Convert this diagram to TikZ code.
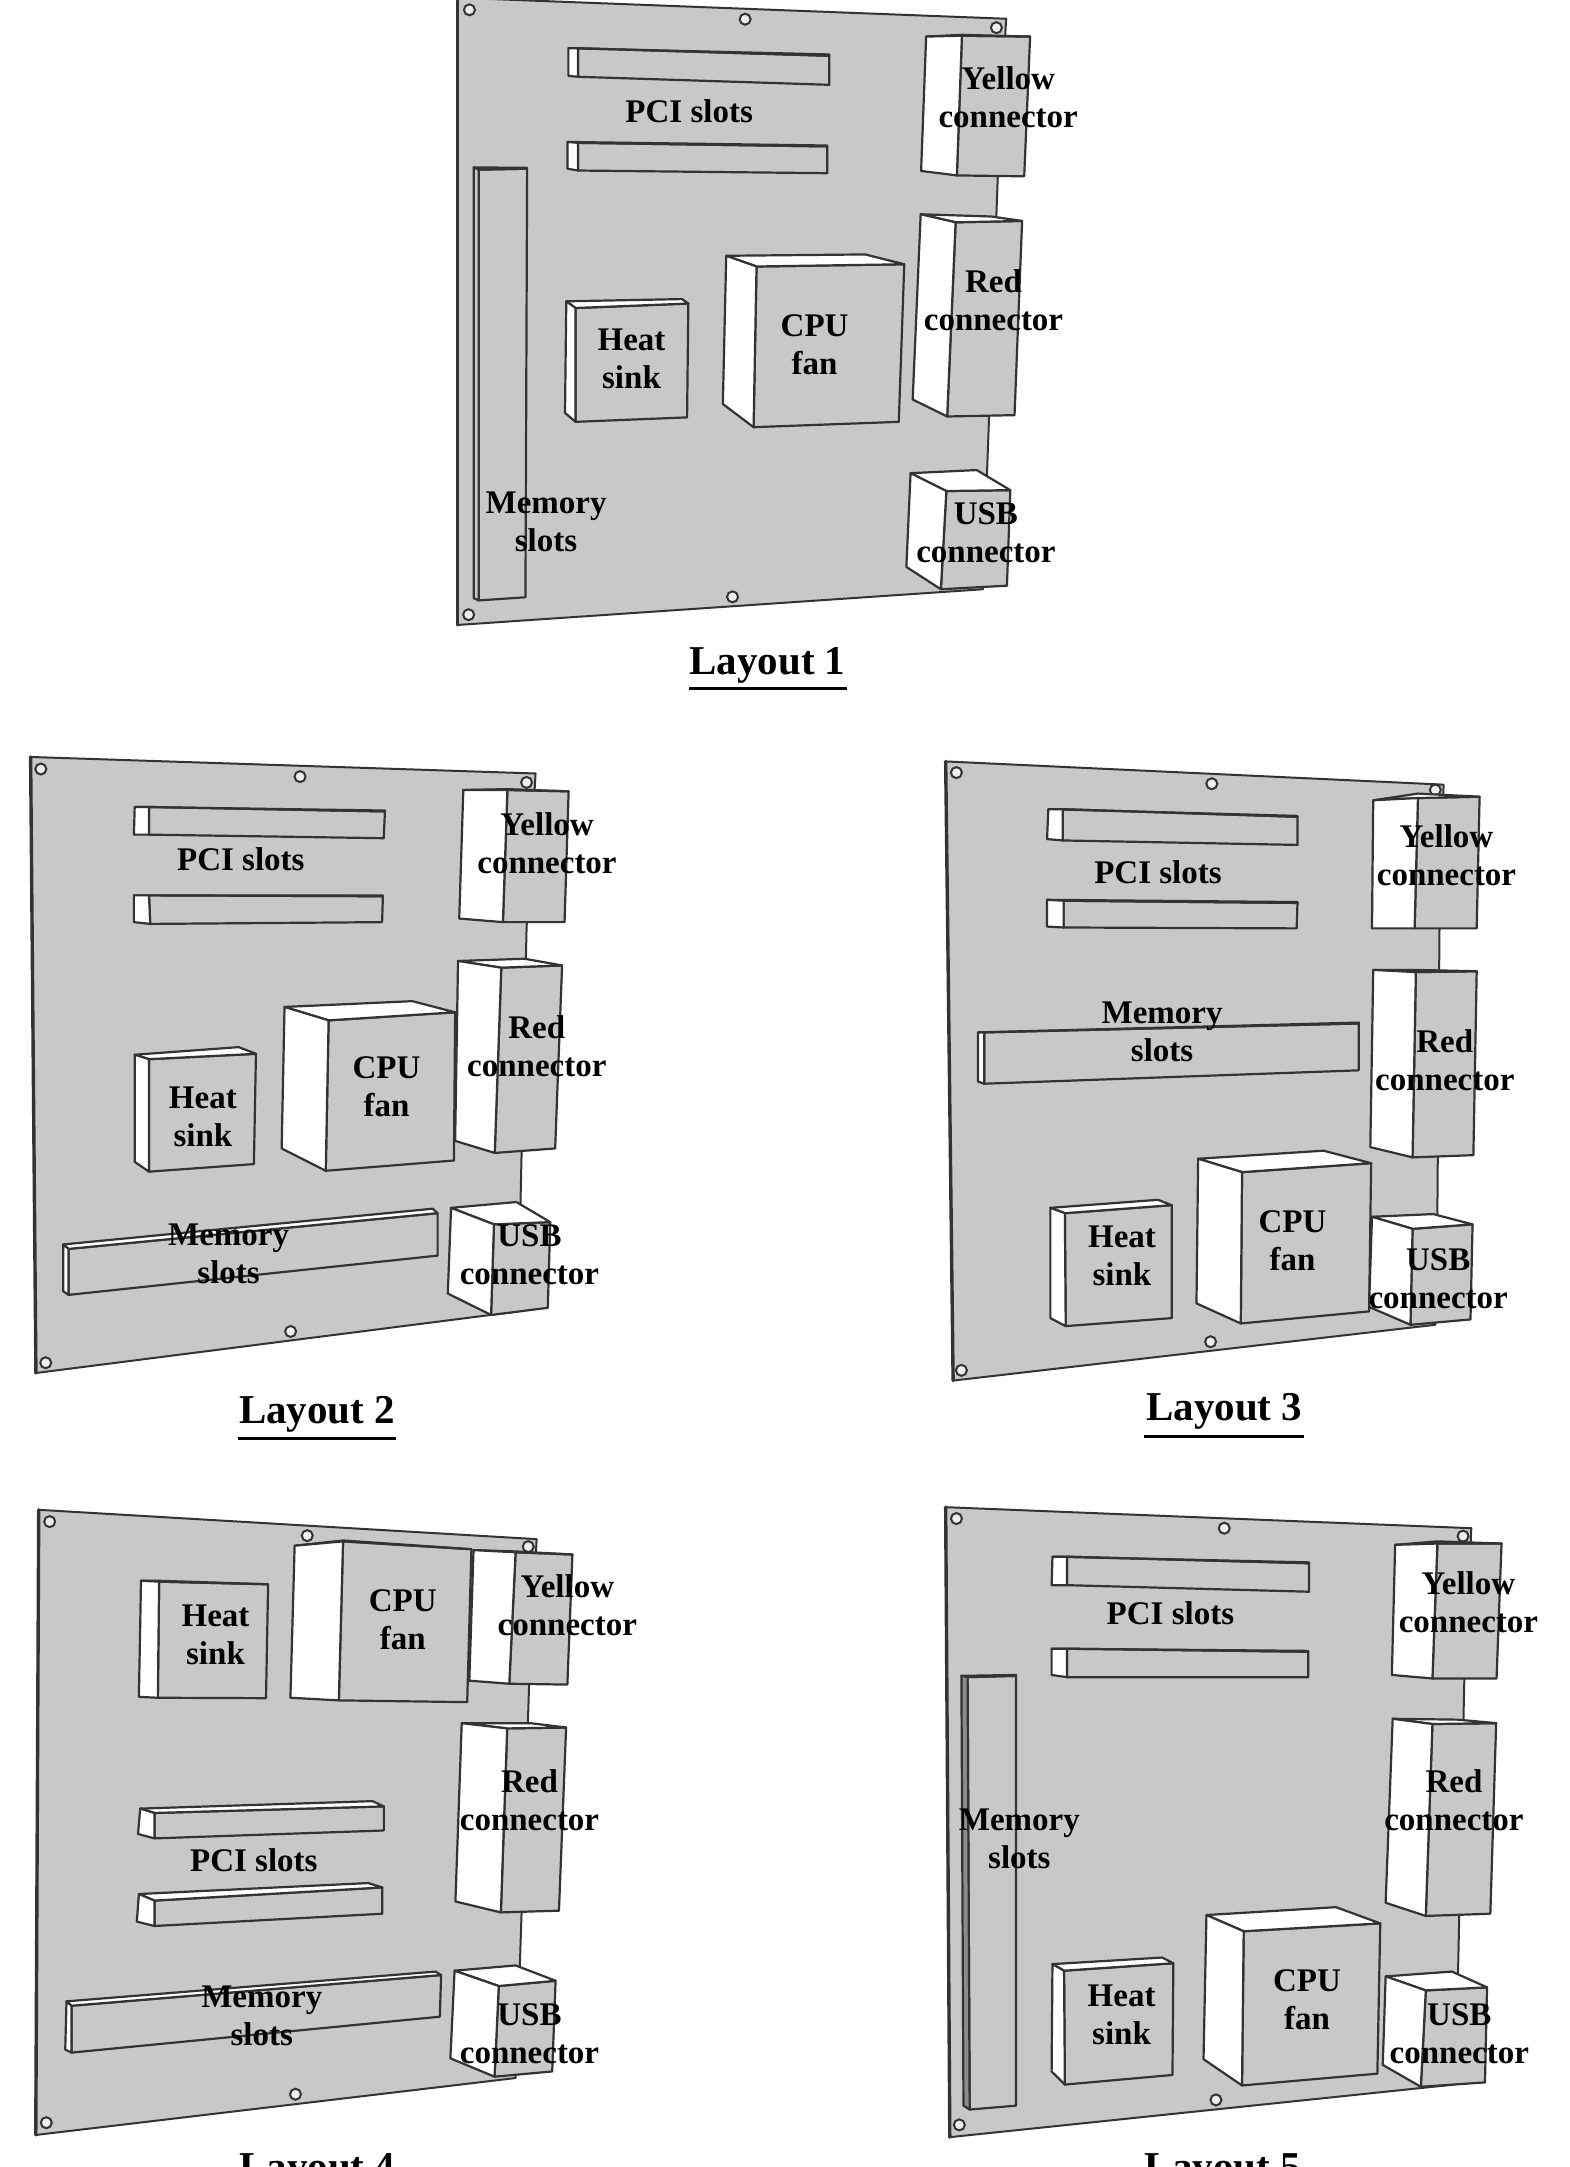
\documentclass[tikz,border=0pt]{standalone}
\usepackage{fontspec}
\setmainfont{Liberation Serif}
\definecolor{boardgray}{HTML}{C8C8C8}
\definecolor{edgegray}{HTML}{333333}

\tikzset{
  board/.style={draw=edgegray,line width=2pt,fill=boardgray,line join=round},
  boardleft/.style={draw=edgegray,line width=3.4pt,line cap=round},
  hole/.style={circle,draw=edgegray,line width=2pt,fill=boardgray!30,minimum size=11pt,inner sep=0pt},
  face/.style={draw=edgegray,line width=2.2pt,fill=boardgray,line join=round},
  part/.style={font=\fontsize{33}{38}\selectfont\bfseries,align=center,inner sep=0pt},
  caption/.style={font=\fontsize{41}{46}\selectfont\bfseries,anchor=base,inner sep=0pt},
  rule/.style={draw=black,line width=2.6pt}
}

% block: front A B C D, then back corners E F G, optional side colour
\newcommand{\block}[8][white]{%
  \draw[face] #2 -- #3 -- #4 -- #5 -- cycle;
  \draw[face,fill=white] #7 -- #2 -- #3 -- #8 -- cycle;
  \draw[face,fill=#1] #2 -- #5 -- #6 -- #7 -- cycle;
}

\begin{document}
\begin{tikzpicture}[x=1pt,y=-1pt]
  \useasboundingbox (0,0) rectangle (1569,2167);

  % layout 1
  \begin{scope}[shift={(440,0)},x=.4209pt,y=-.4464pt]
    \draw[board] (42,-5) -- (1345,42) -- (1325,400) -- (1300,1050) -- (1290,1320) -- (42,1400) -- cycle;
    \draw[boardleft] (42,-5) -- (42,1400);
    \foreach \hx/\hy [count=\i] in {70/22,725/43,1322/62,695/1337,68/1377}
      \node[hole] (a\i) at (\hx,\hy) {};
    \block[boardgray]{(92,380)}{(207,378)}{(203,1338)}{(92,1345)}{(80,1340)}{(80,375)}{(207,376)}
    \block{(328,108)}{(925,125)}{(925,190)}{(328,172)}{(305,170)}{(305,108)}{(925,122)}
    \block{(328,320)}{(920,328)}{(920,388)}{(328,382)}{(303,378)}{(303,318)}{(920,326)}
    \block{(322,690)}{(590,680)}{(587,935)}{(322,945)}{(297,925)}{(300,675)}{(575,670)}
    \block{(752,597)}{(1103,592)}{(1090,945)}{(745,957)}{(672,905)}{(680,573)}{(1010,570)}
    \block{(1240,80)}{(1402,82)}{(1388,395)}{(1228,393)}{(1143,383)}{(1155,82)}{(1240,78)}
    \block{(1225,498)}{(1383,495)}{(1365,930)}{(1205,933)}{(1123,895)}{(1142,480)}{(1310,485)}
    \block{(1203,1100)}{(1355,1098)}{(1347,1312)}{(1190,1320)}{(1108,1270)}{(1118,1060)}{(1275,1053)}
    \node[part] (pci1) at (592,250) {PCI slots};
    \node[part] (yel1) at (1350,218) {Yellow\\connector};
    \node[part] (red1) at (1315,672) {Red\\connector};
    \node[part] (cpu1) at (890,772) {CPU\\fan};
    \node[part] (heat1) at (455,803) {Heat\\sink};
    \node[part] (mem1) at (252,1168) {Memory\\slots};
    \node[part] (usb1) at (1297,1193) {USB\\connector};
    \node[caption] (cap1) at (778,1510) {Layout 1};
    \draw[rule] (592,1543) -- (968,1543);
  \end{scope}

  % layout 2
  \begin{scope}[shift={(0,740)},x=.4082pt,y=-.4464pt]
    \draw[board] (75,38) -- (1312,75) -- (1290,420) -- (1275,1040) -- (1270,1280) -- (88,1418) -- cycle;
    \draw[boardleft] (75,38) -- (88,1418);
    \foreach \hx/\hy [count=\i] in {100/65,735/82,1290/95,712/1325,112/1395}
      \node[hole] (b\i) at (\hx,\hy) {};
    \block{(168,1140)}{(1072,1060)}{(1072,1155)}{(168,1243)}{(155,1235)}{(155,1130)}{(1060,1050)}
    \block{(365,150)}{(943,160)}{(940,220)}{(365,212)}{(328,212)}{(330,150)}{(943,158)}
    \block{(365,348)}{(938,350)}{(936,408)}{(368,412)}{(328,408)}{(328,348)}{(938,348)}
    \block{(365,715)}{(627,703)}{(622,950)}{(365,967)}{(330,945)}{(330,705)}{(585,688)}
    \block{(805,628)}{(1115,610)}{(1112,942)}{(798,965)}{(690,915)}{(697,598)}{(1010,585)}
    \block{(1243,112)}{(1393,115)}{(1383,408)}{(1232,408)}{(1125,400)}{(1135,112)}{(1243,110)}
    \block{(1228,510)}{(1377,505)}{(1360,915)}{(1212,925)}{(1115,898)}{(1122,495)}{(1285,490)}
    \block{(1210,1085)}{(1348,1080)}{(1342,1272)}{(1203,1288)}{(1097,1240)}{(1105,1048)}{(1265,1035)}
    \node[part] (pci2) at (590,268) {PCI slots};
    \node[part] (yel2) at (1340,232) {Yellow\\connector};
    \node[part] (red2) at (1315,687) {Red\\connector};
    \node[part] (cpu2) at (947,777) {CPU\\fan};
    \node[part] (heat2) at (497,845) {Heat\\sink};
    \node[part] (mem2) at (560,1152) {Memory\\slots};
    \node[part] (usb2) at (1297,1152) {USB\\connector};
    \node[caption] (cap2) at (777,1530) {Layout 2};
    \draw[rule] (583,1565) -- (970,1565);
  \end{scope}

  % layout 3
  \begin{scope}[shift={(920,740)},x=.4139pt,y=-.4464pt]
    \draw[board] (62,48) -- (1265,100) -- (1255,430) -- (1250,1060) -- (1245,1310) -- (80,1435) -- cycle;
    \draw[boardleft] (62,48) -- (80,1435);
    \foreach \hx/\hy [count=\i] in {88/73,705/98,1245/112,702/1348,100/1412}
      \node[hole] (c\i) at (\hx,\hy) {};
    \block{(155,655)}{(1060,635)}{(1060,740)}{(155,770)}{(140,765)}{(140,655)}{(1060,633)}
    \block{(345,155)}{(912,172)}{(912,235)}{(345,225)}{(307,222)}{(310,155)}{(912,170)}
    \block{(347,360)}{(912,365)}{(910,422)}{(347,420)}{(307,418)}{(307,358)}{(912,363)}
    \block{(350,1060)}{(608,1042)}{(608,1295)}{(352,1313)}{(315,1295)}{(315,1048)}{(575,1030)}
    \block{(778,968)}{(1090,948)}{(1085,1280)}{(775,1307)}{(668,1262)}{(672,938)}{(975,920)}
    \block{(1203,130)}{(1352,127)}{(1345,422)}{(1195,422)}{(1092,422)}{(1095,135)}{(1203,120)}
    \block{(1198,520)}{(1345,518)}{(1337,930)}{(1190,935)}{(1088,912)}{(1095,515)}{(1198,515)}
    \block{(1190,1095)}{(1335,1085)}{(1330,1298)}{(1185,1310)}{(1085,1270)}{(1092,1068)}{(1240,1062)}
    \node[part] (pci3) at (575,297) {PCI slots};
    \node[part] (yel3) at (1272,258) {Yellow\\connector};
    \node[part] (red3) at (1268,718) {Red\\connector};
    \node[part] (mem3) at (585,654) {Memory\\slots};
    \node[part] (cpu3) at (900,1122) {CPU\\fan};
    \node[part] (heat3) at (488,1155) {Heat\\sink};
    \node[part] (usb3) at (1252,1206) {USB\\connector};
    \node[caption] (cap3) at (735,1525) {Layout 3};
    \draw[rule] (542,1560) -- (927,1560);
  \end{scope}

  % layout 4
  \begin{scope}[shift={(0,1480)},x=.4209pt,y=-.4381pt]
    \draw[board] (92,68) -- (1275,135) -- (1257,470) -- (1235,1110) -- (1225,1365) -- (85,1495) -- cycle;
    \draw[boardleft] (92,68) -- (85,1495);
    \foreach \hx/\hy [count=\i] in {118/95,730/127,1255/152,702/1402,110/1467}
      \node[hole] (d\i) at (\hx,\hy) {};
    \block{(170,1200)}{(1048,1130)}{(1045,1225)}{(170,1307)}{(155,1300)}{(158,1190)}{(1035,1122)}
    \block{(367,760)}{(912,745)}{(912,800)}{(367,818)}{(328,808)}{(333,750)}{(885,733)}
    \block{(367,960)}{(908,930)}{(908,990)}{(367,1018)}{(325,1008)}{(330,945)}{(875,920)}
    \block{(378,232)}{(637,238)}{(632,498)}{(375,497)}{(330,495)}{(335,230)}{(378,230)}
    \block{(1225,165)}{(1360,170)}{(1348,467)}{(1210,465)}{(1115,458)}{(1125,160)}{(1225,163)}
    \block{(815,140)}{(1120,158)}{(1110,507)}{(805,503)}{(690,497)}{(700,150)}{(815,138)}
    \block{(1205,567)}{(1345,565)}{(1328,983)}{(1190,987)}{(1082,962)}{(1097,555)}{(1260,555)}
    \block{(1185,1155)}{(1320,1143)}{(1312,1350)}{(1175,1362)}{(1070,1320)}{(1080,1120)}{(1225,1108)}
    \node[part] (pci4) at (603,867) {PCI slots};
    \node[part] (yel4) at (1348,286) {Yellow\\connector};
    \node[part] (red4) at (1258,731) {Red\\connector};
    \node[part] (cpu4) at (957,320) {CPU\\fan};
    \node[part] (heat4) at (512,354) {Heat\\sink};
    \node[part] (mem4) at (622,1223) {Memory\\slots};
    \node[part] (usb4) at (1258,1265) {USB\\connector};
    \node[caption] (cap4) at (754,1600) {Layout 4};
  \end{scope}

  % layout 5
  \begin{scope}[shift={(920,1480)},x=.4139pt,y=-.4381pt]
    \draw[board] (62,62) -- (1332,110) -- (1315,460) -- (1300,1120) -- (1290,1380) -- (72,1500) -- cycle;
    \draw[boardleft] (62,62) -- (72,1500);
    \foreach \hx/\hy [count=\i] in {88/88,735/110,1312/128,715/1415,95/1472}
      \node[hole] (e\i) at (\hx,\hy) {};
    \block[boardgray!70!black]{(115,450)}{(232,447)}{(232,1428)}{(120,1437)}{(105,1428)}{(100,447)}{(232,445)}
    \block{(355,175)}{(940,190)}{(940,255)}{(355,240)}{(318,240)}{(320,175)}{(940,188)}
    \block{(355,385)}{(938,392)}{(938,450)}{(355,450)}{(318,445)}{(318,385)}{(938,390)}
    \block{(348,1120)}{(612,1103)}{(610,1358)}{(350,1380)}{(318,1350)}{(320,1105)}{(585,1090)}
    \block{(782,1030)}{(1112,1012)}{(1105,1355)}{(778,1382)}{(685,1322)}{(692,993)}{(1005,975)}
    \block{(1250,145)}{(1405,145)}{(1393,453)}{(1238,453)}{(1140,445)}{(1148,148)}{(1250,140)}
    \block{(1238,557)}{(1392,555)}{(1378,990)}{(1222,995)}{(1125,965)}{(1142,545)}{(1300,547)}
    \block{(1222,1165)}{(1370,1158)}{(1365,1375)}{(1210,1385)}{(1118,1335)}{(1125,1133)}{(1285,1122)}
    \node[part] (pci5) at (605,305) {PCI slots};
    \node[part] (yel5) at (1325,280) {Yellow\\connector};
    \node[part] (red5) at (1290,730) {Red\\connector};
    \node[part] (mem5) at (240,818) {Memory\\slots};
    \node[part] (cpu5) at (935,1187) {CPU\\fan};
    \node[part] (heat5) at (487,1221) {Heat\\sink};
    \node[part] (usb5) at (1303,1264) {USB\\connector};
    \node[caption] (cap5) at (732,1600) {Layout 5};
  \end{scope}
\end{tikzpicture}
\end{document}
